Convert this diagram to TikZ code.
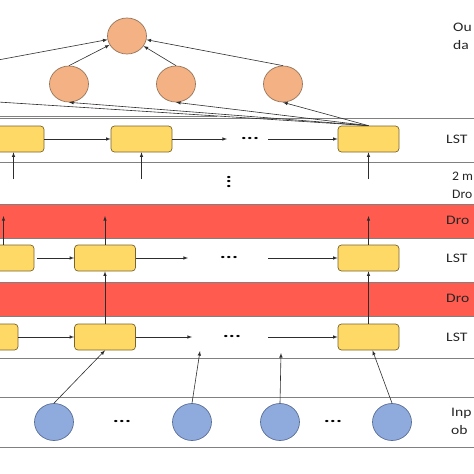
\documentclass[tikz,border=0pt]{standalone}
\usepackage{fontspec}
\setmainfont{Carlito}
\usetikzlibrary{shapes.geometric}
\definecolor{bandline}{RGB}{128,128,128}
\definecolor{dropred}{RGB}{255,91,79}
\definecolor{cellfill}{RGB}{255,217,102}
\definecolor{celldraw}{RGB}{120,100,45}
\definecolor{outfill}{RGB}{244,177,131}
\definecolor{outdraw}{RGB}{150,118,92}
\definecolor{infill}{RGB}{143,170,220}
\definecolor{indraw}{RGB}{90,110,150}
\definecolor{wire}{RGB}{45,45,45}
\begin{document}
\begin{tikzpicture}[x=1pt,y=-1pt]
		\tikzstyle {band} = [bandline, line width=0.8pt]
		\tikzstyle {dropout} = [fill=dropred, draw=bandline, line width=0.8pt]
		\tikzstyle {cell} = [rectangle, rounded corners=3.5pt, draw=celldraw, fill=cellfill, line width=0.7pt, minimum width=61pt, minimum height=26pt, inner sep=0pt]
		\tikzstyle {outunit} = [ellipse, draw=outdraw, fill=outfill, line width=0.7pt, minimum width=39pt, minimum height=36pt, inner sep=0pt]
		\tikzstyle {inunit} = [ellipse, draw=indraw, fill=infill, line width=0.7pt, minimum width=39pt, minimum height=37pt, inner sep=0pt]
		\tikzstyle {link} = [wire, line width=0.6pt, -latex]
		\tikzstyle {dots} = [font=\fontsize{15}{15}\selectfont\bfseries, inner sep=0pt, xscale=1.5]
		\tikzstyle {label} = [anchor=west, align=left, inner sep=0pt, font=\fontsize{13}{18}\selectfont, text=black!85, xscale=1.2]

		\useasboundingbox (0,0) rectangle (474,474);
		\clip (0,0) rectangle (474,474);

		\draw[dropout] (-2,204) rectangle (476,238);
		\draw[dropout] (-2,282) rectangle (476,316);
		\draw[band] (0,118) -- (474,118);
		\draw[band, line width=0.6pt] (0,116) -- (217,116);
		\draw[band] (0,162) -- (474,162);
		\draw[band] (0,358) -- (474,358);
		\draw[band] (0,397) -- (474,397);
		\draw[band] (0,447) -- (474,447);

		\node[outunit] (top) at (127,36) {};
		\node[outunit] (out1) at (69,84) {};
		\node[outunit] (out2) at (176,84) {};
		\node[outunit] (out3) at (283,84) {};

		\node[cell] (l3a) at (13.5,139) {};
		\node[cell] (l3b) at (141.5,139) {};
		\node[cell] (l3c) at (368.5,139) {};
		\node[cell] (l2a) at (3.5,258) {};
		\node[cell] (l2b) at (105,258) {};
		\node[cell] (l2c) at (368.5,258) {};
		\node[cell] (l1a) at (-12.5,337) {};
		\node[cell] (l1b) at (105,337) {};
		\node[cell] (l1c) at (368.5,337) {};

		\node[inunit] (in1) at (54,422) {};
		\node[inunit] (in2) at (192,422) {};
		\node[inunit] (in3) at (280,422) {};
		\node[inunit] (in4) at (392,422) {};

		\node[dots] (d3) at (250,138) {...};
		\node[dots] (d2) at (229,257) {...};
		\node[dots] (d1) at (232,336) {...};
		\node[dots] (din1) at (122,421) {...};
		\node[dots] (din2) at (333,421) {...};
		\node[dots, rotate=-90] (dv) at (229,182) {...};

		\coordinate (t3a) at (13.5,179);
		\coordinate (t3b) at (141.5,179);
		\coordinate (t3c) at (368.5,179);
		\coordinate (t2a) at (3.5,216);
		\coordinate (t2b) at (105,216);
		\coordinate (t2c) at (368.5,216);
		\coordinate (r3) at (227,139);
		\coordinate (s3) at (268,139);
		\coordinate (r2) at (188,258);
		\coordinate (s2) at (268,258);
		\coordinate (r1) at (192,337);
		\coordinate (s1) at (268,337);
		\coordinate (e2) at (200,351);
		\coordinate (e3) at (281,353);
		\coordinate (far1) at (-2,60);
		\coordinate (far2) at (-2,102);

		\draw[link] (far1) -- (top);
		\draw[link] (out1.north) -- (top);
		\draw[link] (out2.north) -- (top);
		\draw[link] (out3.north) -- (top);
		\draw[link] (l3c.north) -- (out1.south);
		\draw[link] (l3c.north) -- (out2.south);
		\draw[link] (l3c.north) -- (out3.south);
		\draw[wire, line width=0.6pt] (l3c.north) -- (far2);

		\draw[link] (l3a) -- (l3b);
		\draw[link] (l3b) -- (r3);
		\draw[link] (s3) -- (l3c);
		\draw[link] (t3a) -- (l3a);
		\draw[link] (t3b) -- (l3b);
		\draw[link] (t3c) -- (l3c);

		\draw[link] (l2a.north) -- (t2a);
		\draw[link] (l2b.north) -- (t2b);
		\draw[link] (l2c.north) -- (t2c);
		\draw[link, shorten <=3pt] (l2a) -- (l2b);
		\draw[link] (l2b) -- (r2);
		\draw[link] (s2) -- (l2c);

		\draw[link] (l1b) -- (l2b);
		\draw[link] (l1c) -- (l2c);
		\draw[link] (l1a) -- (l1b);
		\draw[link] (l1b) -- (r1);
		\draw[link] (s1) -- (l1c);

		\draw[link] (in1.north) -- (l1b.south);
		\draw[link] (in2.north) -- (e2);
		\draw[link] (in3.north) -- (e3);
		\draw[link] (in4.north) -- ([xshift=4pt]l1c.south);

		\node[label] (lbout) at (453,36) {Ou\\da};
		\node[label] (lbl3) at (446,139) {LST};
		\node[label, xscale=0.875] (lbmore) at (452,185) {2 m\\Dro};
		\node[label] (lbd2) at (446,220) {Dro};
		\node[label] (lbl2) at (446,258) {LST};
		\node[label] (lbd1) at (446,298) {Dro};
		\node[label] (lbl1) at (446,337) {LST};
		\node[label] (lbin) at (451,421) {Inp\\ob};
	\end{tikzpicture}
\end{document}
